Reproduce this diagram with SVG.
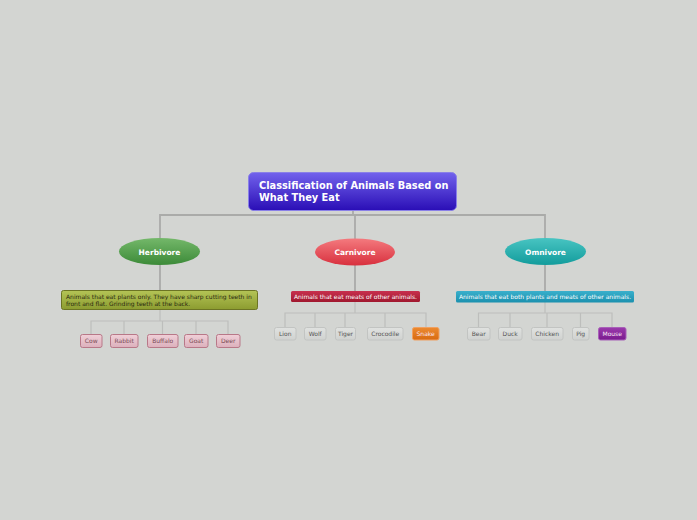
<svg xmlns="http://www.w3.org/2000/svg" width="697" height="520" viewBox="0 0 697 520">
<defs>
<linearGradient id="gRoot" x1="0" y1="0" x2="0" y2="1"><stop offset="0" stop-color="#7262ec"/><stop offset="1" stop-color="#2a0eb6"/></linearGradient>
<linearGradient id="gHerb" x1="0" y1="0" x2="0" y2="1"><stop offset="0" stop-color="#74b86a"/><stop offset="1" stop-color="#3c8a38"/></linearGradient>
<linearGradient id="gCarn" x1="0" y1="0" x2="0" y2="1"><stop offset="0" stop-color="#f47a7e"/><stop offset="1" stop-color="#d8303e"/></linearGradient>
<linearGradient id="gOmni" x1="0" y1="0" x2="0" y2="1"><stop offset="0" stop-color="#48c4c2"/><stop offset="1" stop-color="#129c9c"/></linearGradient>
<linearGradient id="gHD" x1="0" y1="0" x2="0" y2="1"><stop offset="0" stop-color="#b4c456"/><stop offset="1" stop-color="#8c9c30"/></linearGradient>
<linearGradient id="gCD" x1="0" y1="0" x2="0" y2="1"><stop offset="0" stop-color="#c8304e"/><stop offset="1" stop-color="#a0182e"/></linearGradient>
<linearGradient id="gOD" x1="0" y1="0" x2="0" y2="1"><stop offset="0" stop-color="#3ab0cc"/><stop offset="1" stop-color="#1a90ae"/></linearGradient>
<linearGradient id="gPink" x1="0" y1="0" x2="0" y2="1"><stop offset="0" stop-color="#f0d0d8"/><stop offset="1" stop-color="#dcb0bc"/></linearGradient>
<linearGradient id="gGray" x1="0" y1="0" x2="0" y2="1"><stop offset="0" stop-color="#e0e2e0"/><stop offset="1" stop-color="#d0d2d0"/></linearGradient>
<linearGradient id="gOrange" x1="0" y1="0" x2="0" y2="1"><stop offset="0" stop-color="#ec8a30"/><stop offset="1" stop-color="#d86a10"/></linearGradient>
<linearGradient id="gPurple" x1="0" y1="0" x2="0" y2="1"><stop offset="0" stop-color="#9a3aac"/><stop offset="1" stop-color="#7a1a8e"/></linearGradient>
</defs>
<style>
text{font-family:"DejaVu Sans","Liberation Sans",sans-serif}
.main{stroke:#aaaba9;stroke-width:1.8;fill:none}
.sub{stroke:#bdbebc;stroke-width:1.2;fill:none}
.rootT{fill:#fff;font-weight:bold;font-size:9.8px}
.catT{fill:#fff;font-weight:bold;font-size:7.5px;text-anchor:middle}
.descT{font-size:6px}
.leaf{stroke-width:1}
.leafT{font-size:6px;text-anchor:middle}
.dark{fill:#555}
.pinkT{fill:#7a4a55}
.light{fill:#fbe8f6}
</style>
<rect width="697" height="520" fill="#d3d5d2"/>
<g id="connectors">
<path class="main" d="M353 211 V215 M160 240 V215 H545 V240 M355 215 V240"/>
<path class="main" d="M160 265 V291 M355 265 V291 M545 265 V291"/>
<path class="sub" d="M160 310 V321 M91 334 V321 H228 V334 M124 321 V334 M162.5 321 V334 M196 321 V334"/>
<path class="sub" d="M355 302 V313 M285 327 V313 H426 V327 M315 313 V327 M345 313 V327 M385 313 V327"/>
<path class="sub" d="M545 302 V313 M478.5 327 V313 H612 V327 M510 313 V327 M547 313 V327 M580.5 313 V327"/>
</g>
<g id="root">
<rect x="248.5" y="172.5" width="208" height="38" rx="5" fill="url(#gRoot)" stroke="#8a80e8" stroke-width="1"/>
<text class="rootT" x="259" y="189">Classification of Animals Based on</text>
<text class="rootT" x="259" y="201">What They Eat</text>
</g>
<g id="herbivore">
<ellipse cx="159.5" cy="251.5" rx="40.5" ry="13.5" fill="url(#gHerb)"/>
<text class="catT" x="159.5" y="254.5">Herbivore</text>
</g>
<g id="carnivore">
<ellipse cx="355" cy="252" rx="40" ry="13.5" fill="url(#gCarn)"/>
<text class="catT" x="355" y="255">Carnivore</text>
</g>
<g id="omnivore">
<ellipse cx="545.5" cy="251.5" rx="40.5" ry="13.5" fill="url(#gOmni)"/>
<text class="catT" x="545.5" y="254.5">Omnivore</text>
</g>
<g id="herb-desc">
<rect x="61.5" y="290.5" width="196" height="19" rx="2" fill="url(#gHD)" stroke="#6c7424" stroke-width="1"/>
<text class="descT" x="66" y="299" style="fill:#2a2a10">Animals that eat plants only. They have sharp cutting teeth in</text>
<text class="descT" x="66" y="306" style="fill:#2a2a10">front and flat. Grinding teeth at the back.</text>
</g>
<g id="carn-desc">
<rect x="291" y="291" width="129" height="11" rx="1.5" fill="url(#gCD)"/>
<text class="descT" x="355.5" y="298.6" style="fill:#fff;text-anchor:middle">Animals that eat meats of other animals.</text>
</g>
<g id="omni-desc">
<rect x="456" y="291" width="178" height="11.5" rx="1.5" fill="url(#gOD)"/>
<text class="descT" x="545" y="298.8" style="fill:#fff;text-anchor:middle">Animals that eat both plants and meats of other animals.</text>
</g>
<g id="cow"><rect class="leaf" x="80.5" y="334.5" width="21.5" height="13" rx="2" fill="url(#gPink)" stroke="#b87888"/><text class="leafT pinkT" x="91.2" y="343.2">Cow</text></g>
<g id="rabbit"><rect class="leaf" x="110.5" y="334.5" width="27.5" height="13" rx="2" fill="url(#gPink)" stroke="#b87888"/><text class="leafT pinkT" x="124.2" y="343.2">Rabbit</text></g>
<g id="buffalo"><rect class="leaf" x="147.5" y="334.5" width="30.5" height="13" rx="2" fill="url(#gPink)" stroke="#b87888"/><text class="leafT pinkT" x="162.7" y="343.2">Buffalo</text></g>
<g id="goat"><rect class="leaf" x="184.5" y="334.5" width="23.5" height="13" rx="2" fill="url(#gPink)" stroke="#b87888"/><text class="leafT pinkT" x="196.2" y="343.2">Goat</text></g>
<g id="deer"><rect class="leaf" x="216.5" y="334.5" width="23.5" height="13" rx="2" fill="url(#gPink)" stroke="#b87888"/><text class="leafT pinkT" x="228.2" y="343.2">Deer</text></g>
<g id="lion"><rect class="leaf" x="274.5" y="327.5" width="21.5" height="12.5" rx="2" fill="url(#gGray)" stroke="#c2c4c2"/><text class="leafT dark" x="285.2" y="336">Lion</text></g>
<g id="wolf"><rect class="leaf" x="304.5" y="327.5" width="21.5" height="12.5" rx="2" fill="url(#gGray)" stroke="#c2c4c2"/><text class="leafT dark" x="315.2" y="336">Wolf</text></g>
<g id="tiger"><rect class="leaf" x="335.5" y="327.5" width="20" height="12.5" rx="2" fill="url(#gGray)" stroke="#c2c4c2"/><text class="leafT dark" x="345.5" y="336">Tiger</text></g>
<g id="crocodile"><rect class="leaf" x="367.5" y="327.5" width="35.5" height="12.5" rx="2" fill="url(#gGray)" stroke="#c2c4c2"/><text class="leafT dark" x="385.2" y="336">Crocodile</text></g>
<g id="snake"><rect class="leaf" x="412.5" y="327.5" width="26.5" height="12.5" rx="2" fill="url(#gOrange)" stroke="#f0a060"/><text class="leafT light" x="425.7" y="336">Snake</text></g>
<g id="bear"><rect class="leaf" x="467.5" y="327.5" width="22.5" height="12.5" rx="2" fill="url(#gGray)" stroke="#c2c4c2"/><text class="leafT dark" x="478.7" y="336">Bear</text></g>
<g id="duck"><rect class="leaf" x="498.5" y="327.5" width="23.5" height="12.5" rx="2" fill="url(#gGray)" stroke="#c2c4c2"/><text class="leafT dark" x="510.2" y="336">Duck</text></g>
<g id="chicken"><rect class="leaf" x="531.5" y="327.5" width="31.5" height="12.5" rx="2" fill="url(#gGray)" stroke="#c2c4c2"/><text class="leafT dark" x="547.2" y="336">Chicken</text></g>
<g id="pig"><rect class="leaf" x="572.5" y="327.5" width="16.5" height="12.5" rx="2" fill="url(#gGray)" stroke="#c2c4c2"/><text class="leafT dark" x="580.7" y="336">Pig</text></g>
<g id="mouse"><rect class="leaf" x="598.5" y="327.5" width="27.5" height="12.5" rx="2" fill="url(#gPurple)" stroke="#a860b8"/><text class="leafT light" x="612.2" y="336">Mouse</text></g>
</svg>
